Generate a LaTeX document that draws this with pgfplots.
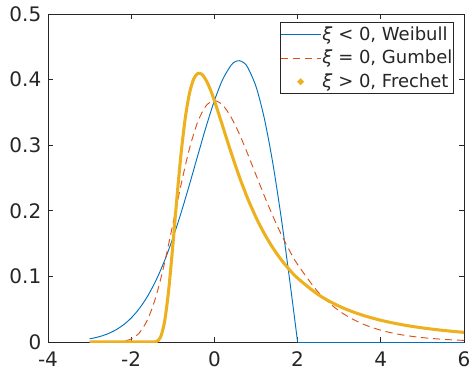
\documentclass[border=0pt]{standalone}
\usepackage{pgfplots}
\pgfplotsset{compat=1.18}
\usepackage{fontspec}
\setmainfont{DejaVu Sans}
\definecolor{mblue}{rgb}{0,0.447,0.741}
\definecolor{morange}{rgb}{0.85,0.325,0.098}
\definecolor{myellow}{rgb}{0.929,0.694,0.125}
\definecolor{axgray}{rgb}{0.15,0.15,0.15}
\begin{document}
\begin{tikzpicture}
\useasboundingbox (-36pt,-27.75pt) rectangle (319.5pt,256.5pt);
\begin{axis}[
  scale only axis, width=312pt, height=246pt,
  xmin=-4, xmax=6, ymin=0, ymax=0.5,
  xtick={-4,-2,0,2,4,6}, ytick={0,0.1,0.2,0.3,0.4,0.5},
  yticklabels={0,0.1,0.2,0.3,0.4,0.5},
  tick align=inside, tick pos=both,
  major tick length=4pt,
  axis line style={axgray, line width=0.5pt},
  tick style={axgray, line width=0.5pt},
  ticklabel style={font=\fontsize{15}{17}\selectfont, text=axgray},
  xticklabel style={yshift=-4pt},
  yticklabel style={xshift=-1.5pt},
  /pgf/number format/assume math mode=true,
  legend style={at={(0.976,0.975)}, anchor=north east, draw=axgray, line width=0.5pt,
    font=\fontsize{13.5}{15}\selectfont, text=axgray, inner xsep=0pt, inner ysep=2.5pt,
    row sep=5pt, nodes={inner xsep=1pt, inner ysep=0.5pt}},
  legend cell align=left,
  legend image code/.code={\draw[#1] (0pt,0pt) -- (30pt,0pt);},
]
\addplot[mblue, line width=0.7pt, smooth] coordinates {
(-3,0.00483) (-2.8,0.00756) (-2.6,0.01160) (-2.4,0.01740) (-2.2,0.02553) (-2,0.03663)
(-1.8,0.05140) (-1.6,0.07050) (-1.4,0.09448) (-1.2,0.12369) (-1,0.15810) (-0.8,0.19720)
(-0.6,0.23988) (-0.4,0.28431) (-0.2,0.32802) (0,0.36788) (0.2,0.40037) (0.4,0.42183)
(0.5,0.42740) (0.6,0.42884) (0.7,0.42600) (0.8,0.41861) (1,0.38940) (1.2,0.34086)
(1.4,0.27418) (1.6,0.19216) (1.8,0.09900) (2,0)};
\addlegendentry{{\itshape ξ} < 0, Weibull}
\addplot[morange, line width=0.7pt, dash pattern=on 5.5pt off 3.5pt, smooth] coordinates {
(-3,0) (-2.6,0.00002) (-2.4,0.00018) (-2.2,0.00109) (-2,0.00457) (-1.8,0.01428)
(-1.6,0.03497) (-1.4,0.07032) (-1.2,0.12002) (-1,0.17937) (-0.8,0.24034) (-0.6,0.29465)
(-0.4,0.33560) (-0.2,0.36010) (0,0.36788) (0.2,0.36105) (0.4,0.34290) (0.6,0.31702)
(0.8,0.28669) (1,0.25465) (1.2,0.22287) (1.4,0.19270) (1.6,0.16499) (1.8,0.14011)
(2,0.11821) (2.5,0.07562) (3,0.04737) (3.5,0.02930) (4,0.01798) (4.5,0.01099)
(5,0.00669) (5.5,0.00407) (6,0.00247)};
\addlegendentry{{\itshape ξ} = 0, Gumbel}
\addplot[myellow, line width=2.3pt, smooth,
  legend image code/.code={\fill[myellow] (15pt,0pt) circle (1pt);}] coordinates {
(-3,0) (-2,0) (-1.6,0) (-1.5,0.00001) (-1.4,0.00055) (-1.3,0.00664) (-1.2,0.03016)
(-1.1,0.07868) (-1,0.14653) (-0.9,0.22042) (-0.8,0.28786) (-0.7,0.34145) (-0.6,0.37880)
(-0.5,0.40062) (-0.4,0.40939) (-0.3,0.40799) (-0.2,0.39910) (-0.1,0.38520) (0,0.36788)
(0.2,0.32877) (0.4,0.28897) (0.6,0.25189) (0.8,0.21879) (1,0.18998) (1.2,0.16520)
(1.4,0.14400) (1.6,0.12593) (1.8,0.11053) (2,0.09735) (2.5,0.07205) (3,0.05454)
(3.5,0.04213) (4,0.03314) (4.5,0.02650) (5,0.02150) (5.5,0.01766) (6,0.01468)};
\addlegendentry{{\itshape ξ} > 0, Frechet}
\addplot[mblue, line width=0.7pt, forget plot] coordinates {(2,0) (6,0)};
\end{axis}
\end{tikzpicture}
\end{document}
